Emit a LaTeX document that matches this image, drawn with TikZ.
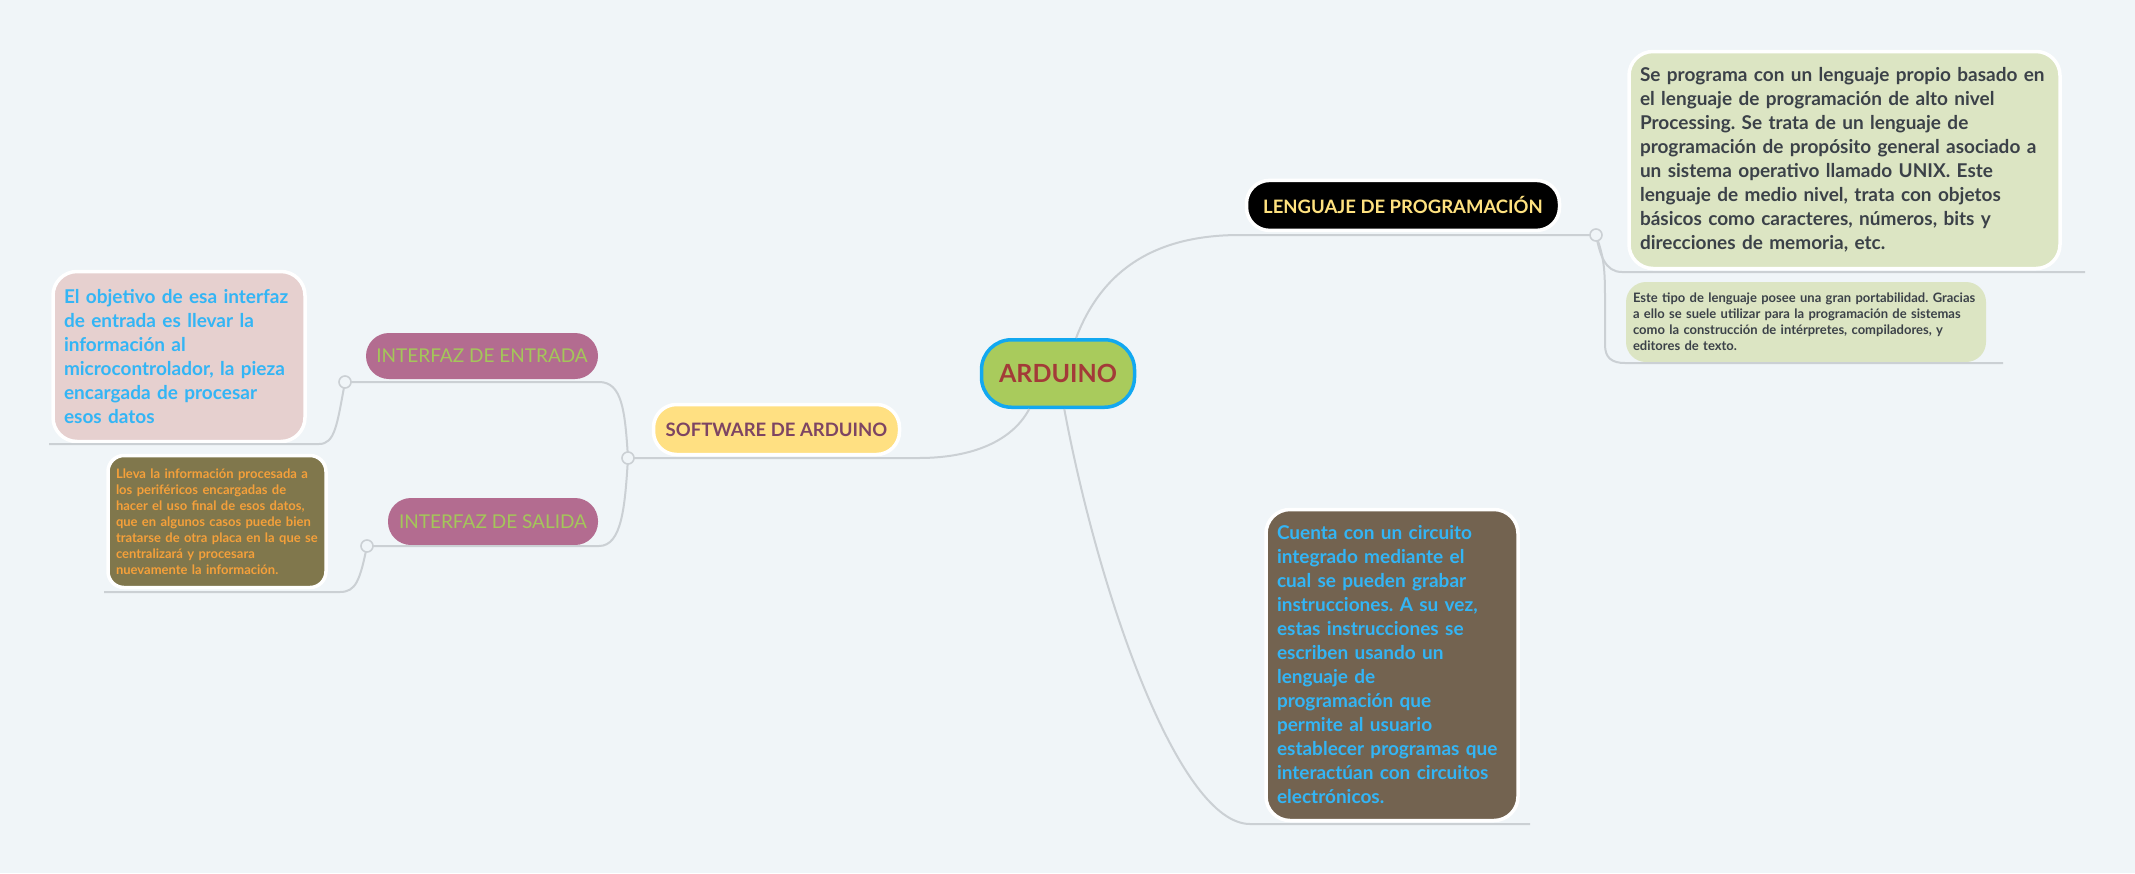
\documentclass[tikz,border=0pt]{standalone}
\usepackage{fontspec}
\setmainfont{Lato}
\frenchspacing
\definecolor{bgc}{HTML}{F0F5F8}
\definecolor{linec}{HTML}{CBD0D4}
\definecolor{ardfill}{HTML}{A9CB5C}
\definecolor{ardborder}{HTML}{12A8F0}
\definecolor{ardtext}{HTML}{A33B38}
\definecolor{langtext}{HTML}{FFE27F}
\definecolor{greenc}{HTML}{DCE5C3}
\definecolor{darkt}{HTML}{3B4148}
\definecolor{swfill}{HTML}{FFE082}
\definecolor{swtext}{HTML}{7D4563}
\definecolor{ifill}{HTML}{B36C90}
\definecolor{itext}{HTML}{A4C65A}
\definecolor{pinkfill}{HTML}{E6D0CF}
\definecolor{bluet}{HTML}{33B5F5}
\definecolor{olivefill}{HTML}{80774C}
\definecolor{oranget}{HTML}{F5A03A}
\definecolor{brownfill}{HTML}{736350}
\begin{document}
\begin{tikzpicture}[x=1pt,y=-1pt,
  conn/.style={draw=linec, line width=2pt},
  junc/.style={circle, draw=linec, line width=1.6pt, fill=bgc, minimum size=12pt, inner sep=0pt},
  textbox/.style={rounded corners=24pt, align=left, inner xsep=11pt, inner ysep=0pt},
  wborder/.style={draw=white, line width=3.5pt},
  pill/.style={rounded corners=23pt, align=center, inner sep=0pt},
  bigfont/.style={font=\fontsize{19}{24}\selectfont\bfseries},
  smallfont/.style={font=\fontsize{13}{16}\selectfont\bfseries}
]
\useasboundingbox[fill=bgc] (0,0) rectangle (2135,873);

% nodes
\node[pill, rounded corners=30pt, fill=ardfill, draw=ardborder, line width=3.5pt,
  minimum width=153pt, minimum height=67.5pt, text=ardtext,
  font=\fontsize{25}{28}\selectfont\bfseries] (ard) at (1058,373.5) {ARDUINO};

\node[pill, fill=black, wborder, minimum width=313pt, minimum height=50pt, text=langtext,
  font=\fontsize{18.5}{22}\selectfont\bfseries] (lang) at (1403,205.4) {LENGUAJE DE PROGRAMACIÓN};

\node[pill, fill=swfill, wborder, minimum width=246pt, minimum height=50pt, text=swtext,
  font=\fontsize{18.5}{22}\selectfont\bfseries] (sw) at (776.5,429.5) {SOFTWARE DE ARDUINO};

\node[pill, fill=ifill, minimum width=232pt, minimum height=46pt, text=itext,
  font=\fontsize{19}{22}\selectfont] (ient) at (482,356) {INTERFAZ DE ENTRADA};

\node[pill, fill=ifill, minimum width=210pt, minimum height=47pt, text=itext,
  font=\fontsize{19}{22}\selectfont] (isal) at (493,521.5) {INTERFAZ DE SALIDA};

\node[textbox, fill=greenc, wborder, bigfont, text=darkt, text width=409pt,
  minimum height=217pt] (prog) at (1844.5,160) {Se programa con un lenguaje propio basado en\\
el lenguaje de programación de alto nivel\\
Processing. Se trata de un lenguaje de\\
programación de propósito general asociado a\\
un sistema operativo llamado UNIX. Este\\
lenguaje de medio nivel, trata con objetos\\
básicos como caracteres, números, bits y\\
direcciones de memoria, etc.};

\node[textbox, rounded corners=20pt, inner xsep=7pt, fill=greenc, smallfont, text=darkt, text width=346pt,
  minimum height=80pt] (port) at (1806,322) {Este tipo de lenguaje posee una gran portabilidad. Gracias\\
a ello se suele utilizar para la programación de sistemas\\
como la construcción de intérpretes, compiladores, y\\
editores de texto.};

\node[textbox, fill=pinkfill, wborder, bigfont, text=bluet, text width=230pt,
  minimum height=170pt] (pink) at (179,356.5) {El objetivo de esa interfaz\\
de entrada es llevar la\\
información al\\
microcontrolador, la pieza\\
encargada de procesar\\
esos datos};

\node[textbox, rounded corners=16pt, inner xsep=8pt, fill=olivefill, wborder, smallfont, text=oranget, text width=202pt,
  minimum height=132pt] (olive) at (217,521.5) {Lleva la información procesada a\\
los periféricos encargadas de\\
hacer el uso final de esos datos,\\
que en algunos casos puede bien\\
tratarse de otra placa en la que se\\
centralizará y procesara\\
nuevamente la información.};

\node[textbox, fill=brownfill, wborder, bigfont, text=bluet, text width=230pt,
  minimum height=311pt] (brown) at (1392,665) {Cuenta con un circuito\\
integrado mediante el\\
cual se pueden grabar\\
instrucciones. A su vez,\\
estas instrucciones se\\
escriben usando un\\
lenguaje de\\
programación que\\
permite al usuario\\
establecer programas que\\
interactúan con circuitos\\
electrónicos.};

% junction and underline coordinates
\coordinate (jl) at (1596,235);
\coordinate (jsw) at (628,458);
\coordinate (jen) at (345,382);
\coordinate (jsa) at (367,546);
\coordinate (langS) at (1240,235);
\coordinate (swS) at (919,458);
\coordinate (brS) at (1250,824);
\coordinate (brE) at (1530,824);
\coordinate (ientS) at (599,382);
\coordinate (isalS) at (599,546);
\coordinate (pinkS) at (319,444);
\coordinate (pinkE) at (49,444);
\coordinate (oliveS) at (340,592);
\coordinate (oliveE) at (104,592);
\coordinate (progS) at (1622,272);
\coordinate (progE) at (2085,272);
\coordinate (portS) at (1625,363);
\coordinate (portE) at (2003,363);

% connectors
\draw[conn] (ard.63) .. controls (1105,262) and (1165,235) .. (langS) -- (jl);
\draw[conn] (ard.231) .. controls (1010,445) and (965,458) .. (swS) -- (jsw);
\draw[conn] (ard.280) .. controls (1100,600) and (1180,824) .. (brS) -- (brE);
\draw[conn] (jsw) .. controls (625,410) and (622,382) .. (ientS) -- (jen);
\draw[conn] (jsw) .. controls (625,506) and (622,546) .. (isalS) -- (jsa);
\draw[conn] (jen) .. controls (337,425) and (335,444) .. (pinkS) -- (pinkE);
\draw[conn] (jsa) .. controls (360,580) and (356,592) .. (oliveS) -- (oliveE);
\draw[conn] (jl) .. controls (1600,255) and (1605,272) .. (progS) -- (progE);
\draw[conn] (jl) .. controls (1604,258) and (1605,268) .. (1605,300) -- (1605,345)
  .. controls (1605,358) and (1612,363) .. (portS) -- (portE);

% junction circles
\node[junc] (jlc) at (jl) {};
\node[junc] (jswc) at (jsw) {};
\node[junc] (jenc) at (jen) {};
\node[junc] (jsac) at (jsa) {};
\end{tikzpicture}
\end{document}
